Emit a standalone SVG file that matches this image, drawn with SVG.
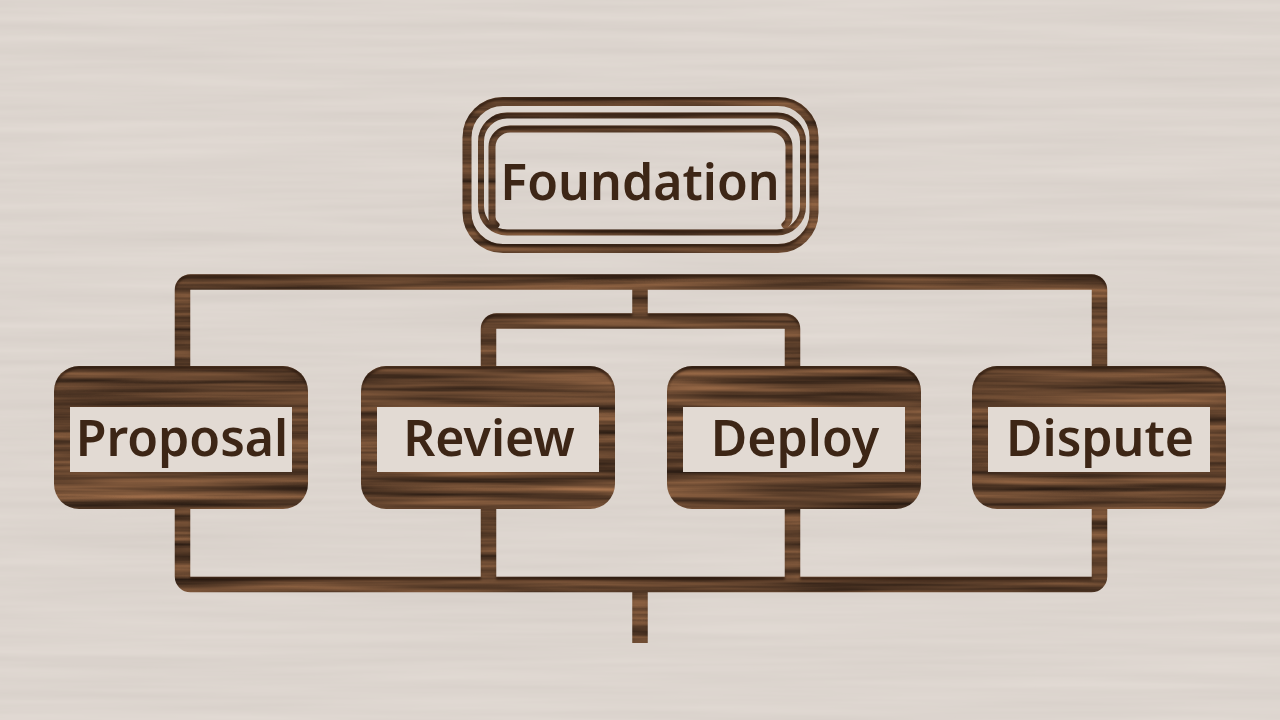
<svg xmlns="http://www.w3.org/2000/svg" width="1280" height="720" viewBox="0 0 1280 720">
<defs>
<style>
.wood{fill:#5e3d25}
.chan{fill:none;stroke:#5e3d25;stroke-width:15.5}
.ring{fill:none;stroke:#5e3d25}
.plate{fill:#e2dad3}
.lbl{font-family:"Noto Sans","Open Sans",sans-serif;font-size:50px;font-weight:600;fill:#3d2616;text-anchor:middle}
</style>
<filter id="woodtex" filterUnits="userSpaceOnUse" x="0" y="0" width="1280" height="720" color-interpolation-filters="sRGB">
<feTurbulence type="fractalNoise" baseFrequency="0.004 0.13" numOctaves="3" seed="7" result="n"/>
<feColorMatrix in="n" type="matrix" values="0.6 0 0 0 0.08  0.42 0 0 0 0.05  0.28 0 0 0 0.035  0 0 0 0 1" result="c"/>
<feComposite in="c" in2="SourceAlpha" operator="in" result="w"/>
<feOffset in="SourceAlpha" dx="0" dy="3" result="off"/>
<feComposite in="SourceAlpha" in2="off" operator="out" result="edge"/>
<feGaussianBlur in="edge" stdDeviation="1" result="eb"/>
<feFlood flood-color="#24140a" flood-opacity="0.8"/>
<feComposite in2="eb" operator="in" result="sh"/>
<feComposite in="sh" in2="SourceAlpha" operator="in" result="sh2"/>
<feMerge><feMergeNode in="w"/><feMergeNode in="sh2"/></feMerge>
</filter>
<filter id="bgtex" filterUnits="userSpaceOnUse" x="0" y="0" width="1280" height="720" color-interpolation-filters="sRGB">
<feTurbulence type="fractalNoise" baseFrequency="0.003 0.09" numOctaves="3" seed="2" result="n"/>
<feColorMatrix in="n" type="matrix" values="0.05 0 0 0 0.84  0.05 0 0 0 0.81  0.05 0 0 0 0.785  0 0 0 0 1"/>
</filter>
</defs>
<rect x="0" y="0" width="1280" height="720" fill="#dcd5cf" filter="url(#bgtex)"/>

<g id="connectors" filter="url(#woodtex)">
<path class="chan" d="M182.5 370 V290 A8 8 0 0 1 190.5 282 H1091.5 A8 8 0 0 1 1099.5 290 V368"/>
<path class="chan" d="M640 282 V321"/>
<path class="chan" d="M488.5 370 V329 A8 8 0 0 1 496.5 321 H784.5 A8 8 0 0 1 792.5 329 V370"/>
<path class="chan" d="M182.5 505 V576.5 A8 8 0 0 0 190.5 584.5 H1091.5 A8 8 0 0 0 1099.5 576.5 V505"/>
<path class="chan" d="M488.5 505 V584"/>
<path class="chan" d="M792.5 505 V584"/>
<path class="chan" d="M640 584 V643" stroke-linecap="butt"/>
</g>

<g id="foundation">
<g filter="url(#woodtex)">
<rect class="ring" x="467" y="101.5" width="347" height="147" rx="36" stroke-width="9"/>
<rect class="ring" x="481" y="115.5" width="322" height="117" rx="26" stroke-width="6"/>
<path class="ring" stroke-width="7" stroke-linecap="round" d="M496 225 Q492 222 492 217 V147 A18 18 0 0 1 510 129 H771 A18 18 0 0 1 789 147 V217 Q789 222 785 225"/>
</g>
<text class="lbl" x="640" y="200">Foundation</text>
</g>

<g id="proposal">
<rect class="wood" x="54" y="366" width="254" height="143" rx="25" filter="url(#woodtex)"/>
<rect class="plate" x="70" y="407" width="222" height="65"/>
<text class="lbl" x="182" y="456">Proposal</text>
</g>

<g id="review">
<rect class="wood" x="361" y="366" width="254" height="143" rx="25" filter="url(#woodtex)"/>
<rect class="plate" x="377" y="407" width="222" height="65"/>
<text class="lbl" x="489" y="456">Review</text>
</g>

<g id="deploy">
<rect class="wood" x="667" y="366" width="254" height="143" rx="25" filter="url(#woodtex)"/>
<rect class="plate" x="683" y="407" width="222" height="65"/>
<text class="lbl" x="795" y="456">Deploy</text>
</g>

<g id="dispute">
<rect class="wood" x="972" y="366" width="254" height="143" rx="25" filter="url(#woodtex)"/>
<rect class="plate" x="988" y="407" width="222" height="65"/>
<text class="lbl" x="1100" y="456">Dispute</text>
</g>
</svg>
